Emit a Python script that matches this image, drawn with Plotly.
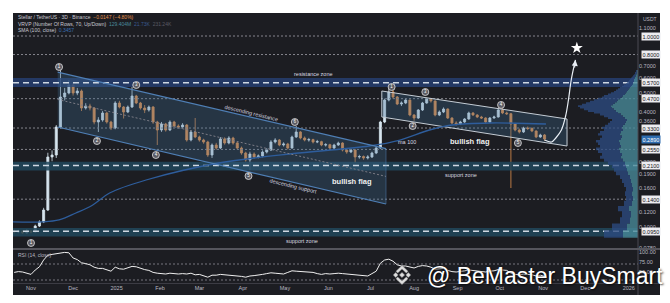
import numpy as np
import pandas as pd
import plotly.graph_objects as go

# ---------------- data ----------------
candle_start = "2024-10-20"   # 3D candles
opens = [0.0954, 0.0943, 0.0954, 0.0932, 0.0954, 0.0943, 0.1013, 0.1064, 0.1229, 0.2328,
         0.2384, 0.3341, 0.4796, 0.5032, 0.5541, 0.5032, 0.5155, 0.4200, 0.4302, 0.4200,
         0.3548, 0.3635, 0.3955, 0.3548, 0.3301, 0.4461, 0.4251, 0.4002, 0.4251, 0.4853,
         0.4461, 0.4200, 0.4100, 0.4251, 0.3548, 0.3222, 0.3464, 0.3222, 0.3548, 0.3381,
         0.3341, 0.3422, 0.2856, 0.3146, 0.2962, 0.2856, 0.2788, 0.2384, 0.2689, 0.2594,
         0.2891, 0.2755, 0.2926, 0.2755, 0.2594, 0.2442, 0.2245, 0.2413, 0.2328, 0.2356,
         0.2472, 0.2532, 0.2788, 0.2856, 0.2689, 0.2722, 0.2594, 0.2962, 0.3146, 0.2926,
         0.2856, 0.2870, 0.2788, 0.2800, 0.2689, 0.2700, 0.2594, 0.2689, 0.2755, 0.2532,
         0.2472, 0.2532, 0.2328, 0.2340, 0.2300, 0.2328, 0.2442, 0.2594, 0.3548, 0.4625,
         0.5093, 0.4796, 0.4407, 0.4461, 0.4625, 0.3861, 0.3723, 0.4100, 0.4461, 0.4681,
         0.4570, 0.3861, 0.4002, 0.4150, 0.3723, 0.3506, 0.3464, 0.3548, 0.3679, 0.3955,
         0.3861, 0.3769, 0.3723, 0.3548, 0.3723, 0.3769, 0.4100, 0.3955, 0.3920, 0.3464,
         0.3222, 0.3146, 0.3301, 0.3280, 0.3184, 0.2962, 0.3034]
closes = [0.0943, 0.0954, 0.0932, 0.0954, 0.0943, 0.1013, 0.1064, 0.1229, 0.2328, 0.2384,
          0.3341, 0.4796, 0.5032, 0.5541, 0.5032, 0.5155, 0.4200, 0.4302, 0.4200, 0.3548,
          0.3635, 0.3955, 0.3548, 0.3301, 0.4461, 0.4251, 0.4002, 0.4251, 0.4853, 0.4461,
          0.4200, 0.4100, 0.4251, 0.3548, 0.3222, 0.3464, 0.3222, 0.3548, 0.3381, 0.3341,
          0.3422, 0.2856, 0.3146, 0.2962, 0.2856, 0.2788, 0.2384, 0.2689, 0.2594, 0.2891,
          0.2755, 0.2926, 0.2755, 0.2594, 0.2442, 0.2245, 0.2413, 0.2328, 0.2356, 0.2472,
          0.2532, 0.2788, 0.2856, 0.2689, 0.2722, 0.2594, 0.2962, 0.3146, 0.2926, 0.2856,
          0.2870, 0.2788, 0.2800, 0.2689, 0.2700, 0.2594, 0.2689, 0.2755, 0.2532, 0.2472,
          0.2532, 0.2328, 0.2340, 0.2300, 0.2328, 0.2442, 0.2594, 0.3548, 0.4625, 0.5093,
          0.4796, 0.4407, 0.4461, 0.4625, 0.3861, 0.3723, 0.4100, 0.4461, 0.4681, 0.4570,
          0.3861, 0.4002, 0.4150, 0.3723, 0.3506, 0.3464, 0.3548, 0.3679, 0.3955, 0.3861,
          0.3769, 0.3723, 0.3548, 0.3723, 0.3769, 0.4100, 0.3955, 0.3920, 0.3464, 0.3222,
          0.3146, 0.3301, 0.3280, 0.3184, 0.2962, 0.3034, 0.2890]
highs = [0.0972, 0.0968, 0.0962, 0.0975, 0.0966, 0.1030, 0.1085, 0.1262, 0.2450, 0.2520,
         0.3420, 0.6639, 0.5350, 0.5886, 0.5700, 0.5350, 0.5250, 0.4450, 0.4420, 0.4250,
         0.3760, 0.4050, 0.4010, 0.3600, 0.4560, 0.4580, 0.4300, 0.4330, 0.5409, 0.4920,
         0.4520, 0.4350, 0.4330, 0.4300, 0.3600, 0.3550, 0.3510, 0.3620, 0.3600, 0.3450,
         0.3500, 0.3460, 0.3210, 0.3723, 0.3010, 0.2900, 0.2830, 0.2740, 0.2760, 0.2960,
         0.2950, 0.2990, 0.2970, 0.2800, 0.2640, 0.2480, 0.2480, 0.2460, 0.2400, 0.2520,
         0.2590, 0.2850, 0.2920, 0.2890, 0.2780, 0.2760, 0.3010, 0.3381, 0.3180, 0.2980,
         0.2930, 0.2900, 0.2860, 0.2830, 0.2750, 0.2730, 0.2730, 0.2800, 0.2780, 0.2560,
         0.2570, 0.2550, 0.2390, 0.2370, 0.2380, 0.2480, 0.2650, 0.3600, 0.4700, 0.5541,
         0.5409, 0.4850, 0.4550, 0.4700, 0.4650, 0.3900, 0.4150, 0.4520, 0.4750, 0.4720,
         0.4600, 0.4080, 0.4230, 0.4180, 0.3760, 0.3580, 0.3600, 0.3720, 0.4020, 0.4000,
         0.3900, 0.3820, 0.3760, 0.3770, 0.3830, 0.4180, 0.4251, 0.4020, 0.3960, 0.3500,
         0.3280, 0.3350, 0.3360, 0.3330, 0.3210, 0.3080, 0.3070]
lows = [0.0925, 0.0930, 0.0921, 0.0925, 0.0928, 0.0938, 0.1001, 0.1050, 0.1215, 0.2210,
        0.2300, 0.3280, 0.4600, 0.4950, 0.4880, 0.4900, 0.4050, 0.4120, 0.4080, 0.3450,
        0.3146, 0.3560, 0.3480, 0.3220, 0.3250, 0.4180, 0.3700, 0.3950, 0.4200, 0.4400,
        0.4120, 0.3950, 0.4020, 0.3470, 0.2689, 0.3150, 0.3160, 0.3180, 0.3330, 0.3280,
        0.3290, 0.2800, 0.2810, 0.2920, 0.2800, 0.2730, 0.2330, 0.2300, 0.2540, 0.2560,
        0.2700, 0.2710, 0.2700, 0.2550, 0.2390, 0.2200, 0.1990, 0.2280, 0.2290, 0.2320,
        0.2430, 0.2500, 0.2740, 0.2650, 0.2640, 0.2550, 0.2570, 0.2930, 0.2880, 0.2810,
        0.2800, 0.2740, 0.2750, 0.2650, 0.2640, 0.2550, 0.2560, 0.2660, 0.2490, 0.2420,
        0.2440, 0.2165, 0.2280, 0.2250, 0.2260, 0.2300, 0.2410, 0.2570, 0.3500, 0.4550,
        0.4700, 0.4350, 0.4300, 0.4400, 0.3800, 0.3600, 0.3680, 0.4050, 0.4420, 0.4480,
        0.3800, 0.3810, 0.3950, 0.3680, 0.3460, 0.3400, 0.3420, 0.3510, 0.3640, 0.3820,
        0.3720, 0.3680, 0.3480, 0.3510, 0.3690, 0.3740, 0.3900, 0.3860, 0.1602, 0.3170,
        0.3090, 0.3110, 0.3220, 0.3140, 0.2920, 0.2930, 0.2820]
rsi = [49, 51, 50, 47, 44, 55, 63, 80, 92, 94,
       96, 98, 99, 98, 85, 81, 73, 71, 68, 62,
       59, 59, 55, 52, 62, 58, 57, 60, 64, 63,
       59, 56, 54, 49, 47, 46, 45, 47, 46, 45,
       46, 45, 47, 43, 44, 41, 37, 42, 42, 44,
       43, 42, 42, 41, 39, 37, 40, 41, 42, 44,
       46, 48, 47, 46, 45, 49, 53, 52, 51, 51,
       50, 49, 46, 44, 46, 45, 46, 47, 46, 45,
       44, 42, 42, 41, 40, 46, 52, 72, 80, 82,
       77, 68, 65, 65, 63, 60, 64, 66, 65, 62,
       57, 58, 59, 54, 51, 50, 51, 53, 55, 54,
       53, 52, 50, 52, 53, 56, 55, 54, 47, 44,
       43, 45, 44, 43, 40, 42, 39]

sma_dates = ["2024-10-19", "2024-11-09", "2024-11-21", "2024-12-03", "2024-12-15", "2024-12-27",
             "2025-01-22", "2025-03-15", "2025-05-11", "2025-06-30", "2025-07-22", "2025-08-12",
             "2025-08-28", "2025-09-24", "2025-11-03"]
sma_vals = [0.1064, 0.1064, 0.1090, 0.1185, 0.1305, 0.1508, 0.1764, 0.2165, 0.2442, 0.2657,
            0.2856, 0.3222, 0.3422, 0.3506, 0.3464]

# volume profile (70 rows, widths in px of the profile area)
vp_low, vp_step = 0.088, 0.00823
vp_up = [15, 11, 8, 7, 9, 6, 5, 6, 5, 6, 7, 8, 10, 11, 12, 13, 15, 17, 16, 18,
         19, 17, 18, 19, 17, 16, 18, 17, 15, 16, 15, 13, 12, 11, 13, 15, 17, 20, 22, 24,
         26, 27, 25, 23, 21, 20, 18, 16, 15, 13, 12, 11, 10, 9, 8, 7, 6, 5, 5, 4,
         4, 4, 3, 3, 2, 2, 1, 1, 1, 1]
vp_down = [19, 15, 10, 9, 11, 8, 7, 7, 7, 8, 9, 10, 12, 13, 14, 17, 19, 21, 20, 22,
           23, 21, 22, 23, 21, 20, 22, 21, 19, 20, 18, 17, 16, 15, 17, 19, 21, 24, 28, 30,
           32, 33, 31, 29, 27, 24, 22, 20, 19, 17, 15, 13, 12, 11, 10, 9, 8, 7, 6, 6,
           5, 4, 4, 3, 3, 2, 2, 2, 1, 1]

# zones / drawn levels
resistance_zone = (0.541, 0.603); resistance_level = 0.57
support_zone = (0.1975, 0.2200); support_level = 0.21
base_zone = (0.0892, 0.0990); base_level = 0.095
dotted_levels = [1.0, 0.8, 0.47, 0.33, 0.255, 0.14]
boxed_levels = [1.0, 0.8, 0.57, 0.47, 0.33, 0.255, 0.21, 0.14, 0.095]
last_price_label = 0.2890
axis_ticks = [1.1, 0.7, 0.6, 0.5, 0.4, 0.36, 0.22, 0.19, 0.16, 0.12, 0.1, 0.078]

ch1_dates = ["2024-11-20", "2025-07-12"]
ch1_upper = [0.647, 0.2572]
ch1_lower = [0.3341, 0.1321]
ch1_mid = [0.4655, 0.1842]
ch2_dates = ["2025-07-09", "2025-11-18"]
ch2_upper = [0.5155, 0.3679]
ch2_lower = [0.3769, 0.2657]

proj_dates = ["2025-11-02", "2025-11-07", "2025-11-10", "2025-11-14", "2025-11-17",
              "2025-11-19", "2025-11-21", "2025-11-24"]
proj_vals = [0.2856, 0.2788, 0.2926, 0.3222, 0.3814, 0.4625, 0.5886, 0.7490]
star_date, star_val = "2025-11-25", 0.8654

mk_dates = ["2024-11-01", "2024-11-21", "2024-12-18", "2025-01-15", "2025-01-29", "2025-04-05",
            "2025-05-08", "2025-07-16", "2025-07-31", "2025-08-09", "2025-10-02", "2025-10-14"]
mk_vals = [0.0826, 0.6883, 0.2822, 0.5541, 0.2384, 0.1851, 0.3548, 0.5409, 0.3381, 0.5093,
           0.4357, 0.2755]
mk_labels = ["1", "1", "2", "3", "4", "5", "6", "1", "2", "3", "4", "5"]

month_ticks = ["2024-11-01", "2024-12-01", "2025-01-01", "2025-02-01", "2025-03-01", "2025-04-01",
               "2025-05-01", "2025-06-01", "2025-07-01", "2025-08-01", "2025-09-01", "2025-10-01",
               "2025-11-01", "2025-12-01", "2026-01-01"]
month_text = ["Nov", "Dec", "2025", "Feb", "Mar", "Apr", "May", "Jun", "Jul", "Aug", "Sep", "Oct",
              "Nov", "Dec", "2026"]

# ---------------- styling ----------------
BG = "#1c1d22"
UP = "#d6e4ee"
DN = "#e2904c"
TXT = "#b8b8c0"
FONT = "Liberation Sans"
X0, X1 = "2024-10-19 04:00", "2026-01-07 14:00"
W, H = 670, 303
ML, MR, MT, MB = 13, 32, 13, 20


def px(x):
    return (x - ML) / (W - ML - MR)


def py(y):
    return (H - MB - y) / (H - MT - MB)


dates = pd.date_range(candle_start, periods=len(closes), freq="3D")

fig = go.Figure()


def hline_trace(v, color, width, dash):
    fig.add_trace(go.Scatter(x=[X0, X1], y=[v, v], mode="lines", hoverinfo="skip",
                             line=dict(color=color, width=width, dash=dash), showlegend=False))


def band_trace(lo, hi, color):
    fig.add_trace(go.Scatter(x=[X0, X1, X1, X0, X0], y=[lo, lo, hi, hi, lo], mode="lines",
                             fill="toself", fillcolor=color, line=dict(width=0),
                             hoverinfo="skip", showlegend=False))


# zones
band_trace(*resistance_zone, "rgba(38,62,112,0.85)")
band_trace(*support_zone, "rgba(33,72,92,0.85)")
band_trace(*base_zone, "rgba(33,72,92,0.85)")

for v in dotted_levels:
    hline_trace(v, "#85858d", 1, "2px,2px")

# channel 1 fill
fig.add_trace(go.Scatter(x=[ch1_dates[0], ch1_dates[1], ch1_dates[1], ch1_dates[0], ch1_dates[0]],
                         y=[ch1_upper[0], ch1_upper[1], ch1_lower[1], ch1_lower[0], ch1_upper[0]],
                         mode="lines", fill="toself", fillcolor="rgba(62,110,150,0.30)",
                         line=dict(width=0), hoverinfo="skip", showlegend=False))
# channel 2 fill
fig.add_trace(go.Scatter(x=[ch2_dates[0], ch2_dates[1], ch2_dates[1], ch2_dates[0], ch2_dates[0]],
                         y=[ch2_upper[0], ch2_upper[1], ch2_lower[1], ch2_lower[0], ch2_upper[0]],
                         mode="lines", fill="toself", fillcolor="rgba(62,110,150,0.30)",
                         line=dict(color="#c4ccd4", width=1), hoverinfo="skip", showlegend=False))

# volume profile
ux, uy, dx, dy = [], [], [], []
for k in range(len(vp_up)):
    lo = vp_low + k * vp_step
    hi = lo + vp_step
    u, d = vp_up[k], vp_down[k]
    ux += [0, u, u, 0, 0, None]
    uy += [lo, lo, hi, hi, lo, None]
    dx += [u, u + d, u + d, u, u, None]
    dy += [lo, lo, hi, hi, lo, None]
fig.add_trace(go.Scatter(x=ux, y=uy, xaxis="x2", yaxis="y", mode="lines", fill="toself",
                         fillcolor="rgba(72,138,154,0.78)", line=dict(width=0),
                         hoverinfo="skip", showlegend=False))
fig.add_trace(go.Scatter(x=dx, y=dy, xaxis="x2", yaxis="y", mode="lines", fill="toself",
                         fillcolor="rgba(44,74,128,0.78)", line=dict(width=0),
                         hoverinfo="skip", showlegend=False))

# zone dashed lines
for v in [resistance_level, support_level, base_level]:
    hline_trace(v, "#cfd8e2", 1.5, "6px,4px")

# SMA
fig.add_trace(go.Scatter(x=sma_dates, y=sma_vals, mode="lines", line=dict(color="#2e5d9c", width=1.3, shape="spline"),
                         hoverinfo="skip", showlegend=False))

# candles
fig.add_trace(go.Candlestick(x=dates, open=opens, high=highs, low=lows, close=closes,
                             increasing=dict(line=dict(color=UP, width=0.8), fillcolor=UP),
                             decreasing=dict(line=dict(color=DN, width=0.8), fillcolor=DN),
                             whiskerwidth=0, showlegend=False, hoverinfo="skip"))

# channel 1 lines
fig.add_trace(go.Scatter(x=ch1_dates, y=ch1_upper, mode="lines", line=dict(color="#4f7fb5", width=1.2),
                         hoverinfo="skip", showlegend=False))
fig.add_trace(go.Scatter(x=ch1_dates, y=ch1_lower, mode="lines", line=dict(color="#4f7fb5", width=1.2),
                         hoverinfo="skip", showlegend=False))
fig.add_trace(go.Scatter(x=ch1_dates, y=ch1_mid, mode="lines", line=dict(color="#7c7c86", width=1, dash="2px,2px"),
                         hoverinfo="skip", showlegend=False))
fig.add_trace(go.Scatter(x=[ch1_dates[1], ch1_dates[1]], y=[ch1_upper[1], ch1_lower[1]], mode="lines",
                         line=dict(color="rgba(79,127,181,0.5)", width=1), hoverinfo="skip", showlegend=False))

# projection
fig.add_trace(go.Scatter(x=proj_dates, y=proj_vals, mode="lines",
                         line=dict(color="#e8eef4", width=1.2, shape="spline", smoothing=1.0),
                         hoverinfo="skip", showlegend=False))
fig.add_trace(go.Scatter(x=[star_date], y=[star_val], mode="markers",
                         marker=dict(symbol="star", size=9, color="white"), hoverinfo="skip", showlegend=False))

# numbered markers
fig.add_trace(go.Scatter(x=mk_dates, y=mk_vals, mode="markers+text", text=mk_labels,
                         textposition="middle center", textfont=dict(size=4.5, color="white", family=FONT),
                         marker=dict(size=7, color="#5c5c64", line=dict(color="#e0e0e0", width=0.8)),
                         hoverinfo="skip", showlegend=False))

# RSI
fig.add_trace(go.Scatter(x=[X0, X1], y=[70, 70], xaxis="x3", yaxis="y3", mode="lines",
                         line=dict(color="#76767e", width=1, dash="2px,2px"), hoverinfo="skip", showlegend=False))
fig.add_trace(go.Scatter(x=[X0, X1], y=[30, 30], xaxis="x3", yaxis="y3", mode="lines",
                         line=dict(color="#76767e", width=1, dash="2px,2px"), hoverinfo="skip", showlegend=False))
fig.add_trace(go.Scatter(x=dates, y=rsi, xaxis="x3", yaxis="y3", mode="lines",
                         line=dict(color="#f0f0f0", width=1), hoverinfo="skip", showlegend=False))

# ---------------- layout ----------------
shapes = [
    dict(type="rect", xref="paper", yref="paper", x0=0, x1=px(660), y0=py(295), y1=1,
         fillcolor=BG, line=dict(width=0), layer="below"),
    dict(type="line", xref="paper", yref="paper", x0=1, x1=1, y0=py(295), y1=1,
         line=dict(color="#4a4a52", width=1)),
    dict(type="line", xref="paper", yref="paper", x0=0, x1=px(660), y0=py(249), y1=py(249),
         line=dict(color="#55555d", width=2)),
    dict(type="line", xref="paper", yref="paper", x0=0, x1=px(660), y0=py(283.5), y1=py(283.5),
         line=dict(color="#3c3c44", width=1)),
]


def diamond(cx, cy, r):
    return (f"M {px(cx)},{py(cy - r)} L {px(cx + r)},{py(cy)} L {px(cx)},{py(cy + r)} "
            f"L {px(cx - r)},{py(cy)} Z")


LX, LY = 402, 275
logo_paths = [diamond(LX, LY, 2.6), diamond(LX - 6.3, LY, 2.4), diamond(LX + 6.3, LY, 2.4)]
top = [(LX, LY - 9.5), (LX + 6, LY - 3.7), (LX + 4.3, LY - 2.0), (LX, LY - 6.1), (LX - 4.3, LY - 2.0), (LX - 6, LY - 3.7)]
bot = [(a, 2 * LY - b) for a, b in top]
for pts in (top, bot):
    logo_paths.append("M " + " L ".join(f"{px(a)},{py(b)}" for a, b in pts) + " Z")
for p in logo_paths:
    shapes.append(dict(type="path", xref="paper", yref="paper", path=p,
                       fillcolor="#dedede", line=dict(color="#9a9a9a", width=0.5), layer="above"))

ann = []


def label(text, x, y, size=5.5, color="#d8d8e0", angle=0, xanchor="center", bold=False):
    if bold:
        text = f"<b>{text}</b>"
    ann.append(dict(text=text, x=px(x), y=py(y), xref="paper", yref="paper", showarrow=False,
                    font=dict(size=size, color=color, family=FONT), textangle=angle,
                    xanchor=xanchor, yanchor="middle"))


label("resistance zone", 313, 74)
label("descending resistance", 251, 113, angle=13.5)
label("descending support", 293, 186, angle=13.5)
label("bullish flag", 352, 181, size=7.5, color="#f0f0f0", bold=True)
label("bullish flag", 470, 141, size=7.5, color="#f0f0f0", bold=True)
label("ma 100", 407, 142)
label("support zone", 461, 175)
label("support zone", 302, 241)
label("RSI (14, close)", 16, 255, size=5, color=TXT, xanchor="left")
label("USDT", 641, 19, size=5, color=TXT, xanchor="left")
label("Stellar / TetherUS · 3D · Binance  <span style='color:#e2904c'>−0.0147 (−4.80%)</span>",
      16, 17, size=5, color="#c9c9d1", xanchor="left")
label("VRVP (Number Of Rows, 70, Up/Down)  <span style='color:#4a8a9c'>129.404M</span>"
      "  <span style='color:#3a5a90'>21.73K</span>  <span style='color:#5a5a62'>231.24K</span>",
      16, 24, size=5, color="#c9c9d1", xanchor="left")
label("SMA (100, close)  <span style='color:#3a6fb0'>0.3457</span>", 16, 30.5, size=5,
      color="#c9c9d1", xanchor="left")

for v in boxed_levels:
    ann.append(dict(text=f"{v:.4f}", x=1 + 2.5 / 625, y=np.log10(v), xref="paper", yref="y",
                    showarrow=False, xanchor="left", yanchor="middle", bgcolor="#ececf0",
                    borderpad=0.5, font=dict(size=5.5, color="#15151a", family=FONT)))
ann.append(dict(text=f"{last_price_label:.4f}", x=1 + 2.5 / 625, y=np.log10(last_price_label),
                xref="paper", yref="y", showarrow=False, xanchor="left", yanchor="middle",
                bgcolor="#2f6db0", borderpad=0.5, font=dict(size=5.5, color="white", family=FONT)))

# arrow head of projection
ann.append(dict(x=proj_dates[-1], y=np.log10(proj_vals[-1]), xref="x", yref="y", text="",
                showarrow=True, arrowhead=2, arrowsize=1, arrowwidth=1.2, arrowcolor="#e8eef4",
                ax=-1, ay=9))

# watermark
ann.append(dict(text="@ BeMaster BuySmart", x=px(425), y=py(276), xref="paper", yref="paper",
                showarrow=False, xanchor="left", yanchor="middle",
                font=dict(size=23, color="white", family=FONT, shadow="1px 1px 2px rgba(0,0,0,0.7)")))

fig.update_layout(
    width=W, height=H, autosize=False,
    margin=dict(l=ML, r=MR, t=MT, b=MB),
    paper_bgcolor="white", plot_bgcolor=BG,
    showlegend=False,
    font=dict(family=FONT, size=5.5, color=TXT),
    shapes=shapes, annotations=ann,
    xaxis=dict(domain=[0, 1], range=[X0, X1], type="date", anchor="y", showticklabels=False,
               showgrid=False, zeroline=False, rangeslider=dict(visible=False), showline=False),
    xaxis2=dict(overlaying="x", range=[625, 0], visible=False, anchor="y"),
    xaxis3=dict(domain=[0, 1], range=[X0, X1], type="date", anchor="y3", matches="x",
                tickvals=month_ticks, ticktext=month_text, tickfont=dict(size=5.5, color=TXT),
                showgrid=False, zeroline=False, ticks="", showline=False),
    yaxis=dict(domain=[py(248), 1], type="log", range=[np.log10(0.07775), np.log10(1.3193)],
               side="right", tickvals=axis_ticks, ticktext=[f"{v:.4f}" for v in axis_ticks],
               tickfont=dict(size=5.5, color=TXT), showgrid=False, zeroline=False, ticks="",
               anchor="x"),
    yaxis3=dict(domain=[0, py(250)], range=[22.5, 105], side="right", tickvals=[50, 75, 100],
                ticktext=["50.00", "75.00", "100.00"], tickfont=dict(size=5.5, color=TXT),
                showgrid=False, zeroline=False, ticks="", anchor="x3"),
)

fig.write_html("out.html")
